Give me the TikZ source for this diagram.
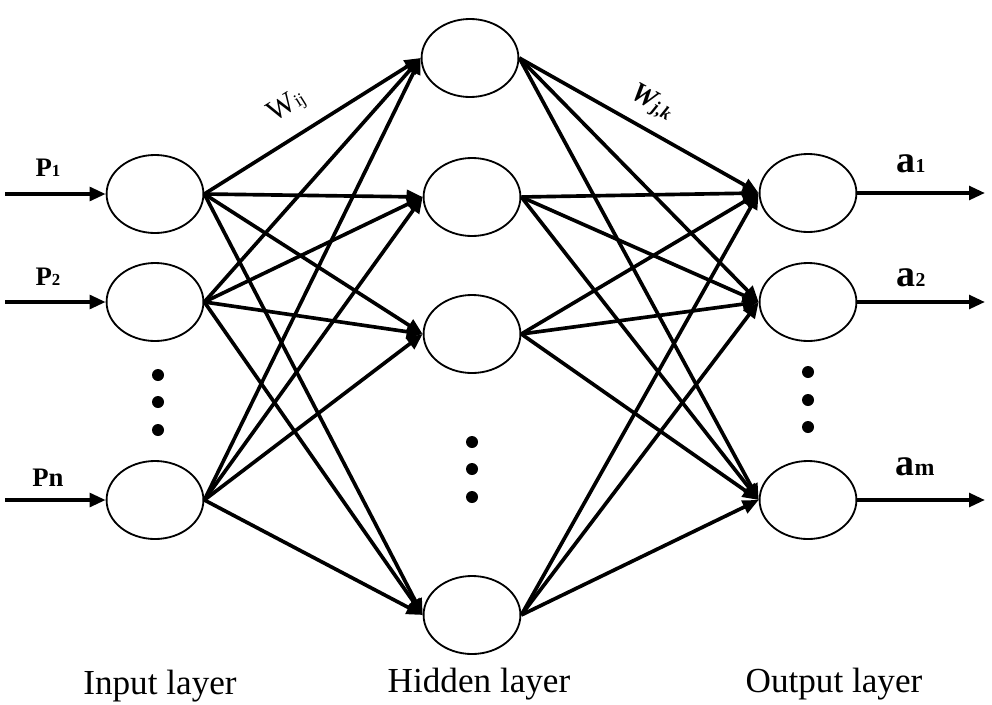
\documentclass[tikz,border=0pt]{standalone}
\usepackage{fontspec}
\setmainfont{Liberation Serif}
\usetikzlibrary{shapes.geometric,arrows.meta}

\begin{document}
\begin{tikzpicture}[x=0.025cm,y=-0.025cm,
  neuron/.style={ellipse,draw,line width=1.3pt,minimum width=2.42cm,minimum height=1.95cm,inner sep=0pt},
  wire/.style={line width=2.6pt,-{Triangle[length=0.4cm,width=0.34cm]}},
  dot/.style={circle,fill,inner sep=0pt,minimum size=0.3cm},
  plbl/.style={font=\bfseries\fontsize{19}{19}\selectfont},
  albl/.style={font=\bfseries\fontsize{27}{27}\selectfont},
  layer/.style={font=\fontsize{25}{25}\selectfont}]
\useasboundingbox (0,0) rectangle (992,704);
\node [neuron] (i1) at (155,194) {};
\node [neuron] (i2) at (155,302) {};
\node [neuron] (in) at (155,500) {};
\node [neuron] (h1) at (470,58) {};
\node [neuron] (h2) at (472,197) {};
\node [neuron] (h3) at (472,334) {};
\node [neuron] (h4) at (472,615) {};
\node [neuron] (o1) at (808,193) {};
\node [neuron] (o2) at (808,302) {};
\node [neuron] (om) at (808,500) {};
\coordinate (p1) at (5,194);
\coordinate (p2) at (5,302);
\coordinate (pn) at (5,500);
\coordinate (q1) at (985,193);
\coordinate (q2) at (985,302);
\coordinate (qm) at (985,500);
\draw [wire] (p1) -- (i1.west);
\draw [wire] (p2) -- (i2.west);
\draw [wire] (pn) -- (in.west);
\draw [wire] (o1.east) -- (q1);
\draw [wire] (o2.east) -- (q2);
\draw [wire] (om.east) -- (qm);
\foreach \i in {i1,i2,in}
  \foreach \h in {h1,h2,h3,h4}
    \draw [wire] (\i.east) -- (\h.west);
\foreach \h in {h1,h2,h3,h4}
  \foreach \o in {o1,o2,om}
    \draw [wire] (\h.east) -- (\o.west);
\node [dot] (d1) at (158,375) {};
\node [dot] (d2) at (158,402) {};
\node [dot] (d3) at (158,430) {};
\node [dot] (d4) at (472,442) {};
\node [dot] (d5) at (472,469) {};
\node [dot] (d6) at (472,497) {};
\node [dot] (d7) at (808,372) {};
\node [dot] (d8) at (808,400) {};
\node [dot] (d9) at (808,427) {};
\node [plbl] (lp1) at (48,168) {P{\fontsize{12}{12}\selectfont 1}};
\node [plbl] (lp2) at (48,277) {P{\fontsize{12}{12}\selectfont 2}};
\node [plbl] (lpn) at (48,478) {Pn};
\node [albl] (la1) at (911,164) {a{\fontsize{14}{14}\selectfont 1}};
\node [albl] (la2) at (911,278) {a{\fontsize{14}{14}\selectfont 2}};
\node [albl] (lam) at (915,467) {a{\fontsize{17}{17}\selectfont m}};
\node [rotate=32] (wij) at (287,106) {{\fontsize{21}{21}\selectfont W}{\fontsize{13}{13}\selectfont ij}};
\node [rotate=-29] (wjk) at (652,103) {\bfseries\itshape{\fontsize{20}{20}\selectfont W}\raisebox{-0.35ex}{\fontsize{13}{13}\selectfont j,k}};
\node [layer] (input) at (160,686) {Input layer};
\node [layer] (hidden) at (479,684) {Hidden layer};
\node [layer] (output) at (834,684) {Output layer};
\end{tikzpicture}
\end{document}
